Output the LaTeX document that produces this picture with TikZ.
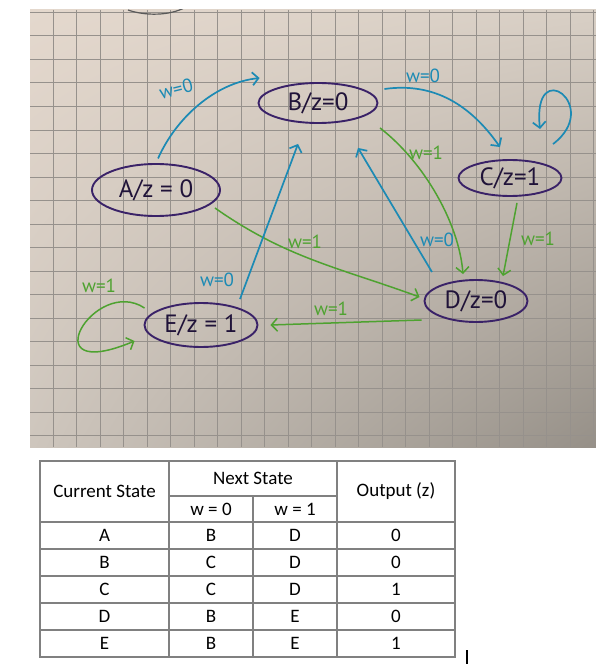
\documentclass[tikz,border=0pt]{standalone}
\usepackage{fontspec}
\setmainfont{Carlito}
\newfontfamily\hand{PT Sans}
\usetikzlibrary{shapes.geometric,arrows.meta,shadings}
\definecolor{paperA}{RGB}{228,216,205}
\definecolor{paperB}{RGB}{216,207,197}
\definecolor{paperC}{RGB}{206,198,189}
\definecolor{paperD}{RGB}{150,144,136}
\definecolor{gridgray}{RGB}{150,145,140}
\definecolor{ink}{RGB}{58,34,104}
\definecolor{inkblue}{RGB}{28,138,180}
\definecolor{inkgreen}{RGB}{78,162,48}
\definecolor{tabgray}{RGB}{128,128,128}

\begin{document}
\begin{tikzpicture}[x=1pt,y=1pt,
  state/.style={ellipse,draw=ink,line width=1.9pt,inner sep=0pt,text=ink!55!black,font=\hand\fontsize{25}{25}\selectfont},
  zero/.style={draw=inkblue,line width=1.7pt,-{Straight Barb[length=6pt,width=13pt]}},
  one/.style={draw=inkgreen,line width=1.5pt,-{Straight Barb[length=6pt,width=13pt]}},
  zlab/.style={text=inkblue,font=\hand\fontsize{19}{19}\selectfont},
  olab/.style={text=inkgreen,font=\hand\fontsize{19}{19}\selectfont},
  cell/.style={font=\fontsize{19}{19}\selectfont,text=black}]
\useasboundingbox (0,0) rectangle (596,-666);
\shade[upper left=paperA,upper right=paperB,lower left=paperC,lower right=paperD] (30,-10) rectangle (596,-447);
\begin{scope}
\clip (30,-10) rectangle (596,-447);
\foreach \gx in {53,76.5,...,596} \draw[gridgray,line width=1pt] (\gx,-10) -- (\gx,-447);
\foreach \gy in {12.5,36,...,447} \draw[gridgray,line width=1pt] (30,-\gy) -- (596,-\gy);
\draw[black!65,line width=1.2pt] (128,-10) .. controls (145,-16) and (170,-16) .. (186,-7);
\end{scope}

\node[state,minimum width=128pt,minimum height=52pt] (A) at (156,-190) {A/z = 0};
\node[state,minimum width=119pt,minimum height=40pt] (B) at (318,-103) {B/z=0};
\node[state,minimum width=103pt,minimum height=36pt] (C) at (510,-178) {C/z=1};
\node[state,minimum width=103pt,minimum height=42pt] (D) at (476,-301) {D/z=0};
\node[state,minimum width=113pt,minimum height=44pt] (E) at (201,-325) {E/z = 1};

\draw[zero,shorten <=5pt] (A.north) .. controls +(20,45) and +(-45,-5) .. ([shift={(2,25)}]B.west);
\draw[zero] ([shift={(6,14)}]B.east) to[out=8,in=125] ([shift={(-10,12)}]C.north);
\draw[zero] ([shift={(43,15)}]C.north) .. controls +(50,38) and +(-8,75) .. ([shift={(30,30)}]C.north);
\draw[one] ([shift={(62,-4)}]B.south) .. controls +(45,-35) and +(-4,50) .. ([shift={(-13,5)}]D.north);
\draw[zero] ([shift={(-44,7)}]D.north) -- ([shift={(40,-24)}]B.south);
\draw[one] ([shift={(7,-6)}]C.south) -- ([shift={(27,3)}]D.north);
\draw[one] ([shift={(-6,-18)}]A.east) to[out=-35,in=160] ([shift={(-4,4)}]D.west);
\draw[zero] ([shift={(39,3)}]E.north) -- ([shift={(-20,-20)}]B.south);
\draw[one] ([shift={(-2,-19)}]D.west) -- ([shift={(12,0)}]E.east);
\draw[one] ([shift={(1,17)}]E.west) .. controls +(-50,33) and +(-105,-44) .. ([shift={(-9,-16)}]E.west);

\node[zlab,rotate=14] (wAB) at (176,-89) {w=0};
\node[zlab] (wBC) at (423,-76) {w=0};
\node[olab] (wBD) at (426,-153) {w=1};
\node[zlab] (wDB) at (437,-240) {w=0};
\node[olab] (wCD) at (538,-239) {w=1};
\node[olab] (wAD) at (305,-242) {w=1};
\node[zlab] (wEB) at (217,-280) {w=0};
\node[olab] (wDE) at (331,-309) {w=1};
\node[olab] (wEE) at (99,-286) {w=1};

\draw[tabgray,line width=1.5pt] (40,-461) rectangle (455,-657);
\draw[tabgray,line width=1.5pt] (169,-461) -- (169,-657);
\draw[tabgray,line width=1.5pt] (253,-496) -- (253,-657);
\draw[tabgray,line width=1.5pt] (337,-461) -- (337,-657);
\draw[tabgray,line width=1.5pt] (169,-496) -- (337,-496);
\foreach \ry in {522,549,576,603,630} \draw[tabgray,line width=1.5pt] (40,-\ry) -- (455,-\ry);
\node[cell] (hcur) at (104.5,-491) {Current State};
\node[cell] (hnext) at (253,-478.5) {Next State};
\node[cell] (hout) at (396,-491) {Output (z)};
\node[cell] (hw0) at (211,-509) {w = 0};
\node[cell] (hw1) at (295,-509) {w = 1};
\foreach \cs/\nz/\no/\oz [count=\i] in {A/B/D/0,B/C/D/0,C/C/D/1,D/B/E/0,E/B/E/1} {
  \node[cell] (cs\i) at (104.5,{-508.5-27*\i}) {\cs};
  \node[cell] (nz\i) at (211,{-508.5-27*\i}) {\nz};
  \node[cell] (no\i) at (295,{-508.5-27*\i}) {\no};
  \node[cell] (oz\i) at (396,{-508.5-27*\i}) {\oz};
}
\draw[line width=2pt] (467,-650) -- (467,-664);
\end{tikzpicture}
\end{document}
